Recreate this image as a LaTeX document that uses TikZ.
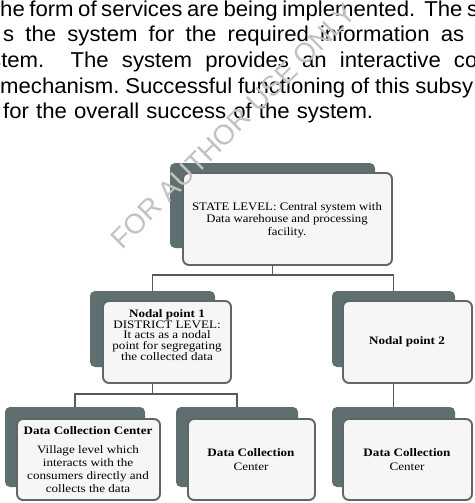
\documentclass[tikz,border=0pt]{standalone}
\usepackage{fontspec}
\setmainfont{Liberation Serif}
\newfontfamily\parafont[FakeStretch=1.03]{Liberation Sans}
\newfontfamily\topfont[FakeStretch=1.11]{Liberation Serif}
\newfontfamily\boxfont[FakeStretch=1.15]{Liberation Serif}
\newfontfamily\markfont{Liberation Sans}
\definecolor{backc}{RGB}{95,110,110}
\definecolor{edgec}{RGB}{95,102,102}
\definecolor{linec}{RGB}{85,90,90}
\definecolor{frontc}{RGB}{246,246,246}
\frenchspacing
\tikzset{
  backbox/.style={rectangle, rounded corners=5pt, fill=backc, inner sep=0pt},
  frontbox/.style={rectangle, rounded corners=6pt, draw=edgec, line width=1.9pt, fill=frontc, inner sep=0pt},
  txt/.style={font=\boxfont\fontsize{11.4}{#1}\selectfont, align=center, inner sep=0pt},
  txt/.default=10.8,
  toptxt/.style={font=\topfont\fontsize{11.5}{12.5}\selectfont, align=center, inner sep=0pt},
  para/.style={font=\parafont\fontsize{21.5}{25}\selectfont, anchor=base west, inner sep=0pt},
  conn/.style={draw=linec, line width=1.5pt},
  wmark/.style={font=\markfont\fontsize{28}{28}\selectfont, text=black!24, inner sep=0pt}
}
\begin{document}
\begin{tikzpicture}[x=1pt,y=-1pt]
\useasboundingbox (0,0) rectangle (474,503);
\clip (0,0) rectangle (474,503);
% paragraph
\node[para] (p1) at (0,16.5) {\makebox[478pt][s]{he form of services are being implemented.~~The s}};
\node[para] (p2) at (3,42) {\makebox[461pt][s]{s the system for the required information as}};
\node[para] (p3) at (-10,67.5) {\makebox[494.6pt][s]{stem.~~The system provides an interactive cor}};
\node[para] (p4) at (0,93) {\makebox[473pt][s]{mechanism. Successful functioning of this subsy}};
\node[para] (p5) at (3,118.5) {\makebox[370pt][s]{for the overall success of the system.}};
% top
\node[backbox, minimum width=205, minimum height=85] (topA) at (272.5,205.5) {};
\node[frontbox, minimum width=209, minimum height=92] (topB) at (287.5,219) {};
\node[toptxt] (topT) at (287,220) {STATE LEVEL: Central system with\\Data warehouse and processing\\facility.};
% nodal 1
\node[backbox, minimum width=125, minimum height=76] (n1A) at (152.5,329) {};
\node[frontbox, minimum width=128, minimum height=82] (n1B) at (167,342) {};
\node[txt] (n1T) at (167,335) {\textbf{Nodal point 1}\\DISTRICT LEVEL:\\It acts as a nodal\\point for segregating\\the collected data};
% nodal 2
\node[backbox, minimum width=123, minimum height=76] (n2A) at (393.5,329) {};
\node[frontbox, minimum width=129, minimum height=82] (n2B) at (407.5,342) {};
\node[txt] (n2T) at (407,342) {\textbf{Nodal point 2}};
% DCC 1
\node[backbox, minimum width=140, minimum height=80] (d1A) at (75,447) {};
\node[frontbox, minimum width=143, minimum height=81] (d1B) at (88.5,459.5) {};
\node[txt] (d1H) at (88,431) {\textbf{Data Collection Center}};
\node[txt=13] (d1T) at (88,469.5) {Village level which\\interacts with the\\consumers directly and\\collects the data};
% DCC 2
\node[backbox, minimum width=122, minimum height=80] (d2A) at (237,447) {};
\node[frontbox, minimum width=127, minimum height=81] (d2B) at (251.5,459.5) {};
\node[txt=14] (d2T) at (251,460) {\textbf{Data Collection}\\Center};
% DCC 3
\node[backbox, minimum width=123, minimum height=80] (d3A) at (393.5,447) {};
\node[frontbox, minimum width=129, minimum height=81] (d3B) at (407.5,459.5) {};
\node[txt=14] (d3T) at (407,460) {\textbf{Data Collection}\\Center};
% connectors
\coordinate (j1) at (272.5,275);
\coordinate (j2) at (152.5,394);
\draw[conn] (topA.center |- topB.south) -- (j1);
\draw[conn] (n1A.north) |- (j1) -| (n2A.north);
\draw[conn] (n1A.center |- n1B.south) -- (j2);
\draw[conn] (d1A.north) |- (j2) -| (d2A.north);
\draw[conn] (n2A.center |- n2B.south) -- (d3A.north);
% watermark
\node[wmark, rotate=45] (wm) at (233,126) {FOR AUTHOR USE ONLY};
\end{tikzpicture}
\end{document}
